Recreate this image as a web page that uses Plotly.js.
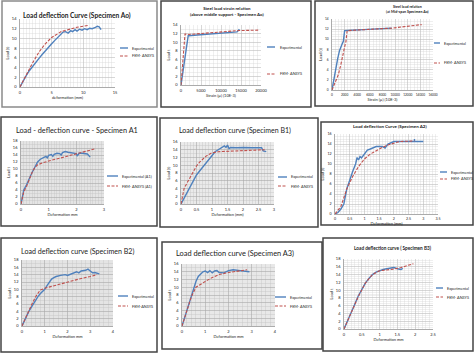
<!DOCTYPE html>
<html><head><meta charset="utf-8">
<script src="https://cdn.plot.ly/plotly-3.0.1.min.js"></script>
<style>html,body{margin:0;padding:0;background:#fff}#chart{width:474px;height:356px}</style>
</head><body><div id="chart"></div>
<script>
// ---------- DATA ----------
// Panel 1: Load deflection Curve (Specimen Ao)
const ao_defl_exp_x = [0,0.2,0.5,1,1.5,2,2.5,3,3.5,4,4.5,5,5.5,6,6.5,6.8,7.2,7.6,8,8.3,8.7,9,9.4,9.8,10.2,10.6,11,11.4,11.8,12.2,12.5,12.8];
const ao_defl_exp_y = [0,0.5,1.3,2.4,3.4,4.3,5.1,5.9,6.7,7.5,8.2,8.9,9.6,10.2,10.8,11.3,11.4,11.1,11.6,11.4,11.8,11.5,11.9,11.7,12.0,11.8,12.1,12.0,12.2,12.5,12.4,11.8];
const ao_defl_fem_x = [0,0.5,1,2,3,4,5,6,6.5,7,8,9,10,10.8];
const ao_defl_fem_y = [0,1.3,2.6,5.0,7.2,8.9,10.2,11.1,11.4,11.6,12.0,12.3,12.5,12.7];
// Panel 2: Steel load strain relation (above middle support - Specimen Ao)
const ao_sup_exp_x = [0,1800,14000,14600];
const ao_sup_exp_y = [0,11.5,12.4,13.0];
const ao_sup_fem_x = [0,1000,2000,14500,19500];
const ao_sup_fem_y = [0,11.9,11.8,12.7,12.8];
// Panel 3: Steel load relation (at Mid-span Specimen Ao)
const ao_mid_exp_x = [0,300,600,900,1200,1450,1650,1800,1950,2000,9450];
const ao_mid_exp_y = [0,2.2,4.2,6.2,7.8,8.8,9.2,9.6,10.6,11.7,12.2];
const ao_mid_fem_x = [0,500,1000,1400,1700,2000,2200,2400,9500,14200];
const ao_mid_fem_y = [0,1.5,3.0,5.0,7.0,8.5,9.5,11.7,12.2,12.9];
// Panel 4: Load - deflection curve - Specimen A1
const a1_exp_x = [0,0.05,0.1,0.2,0.3,0.4,0.5,0.6,0.7,0.8,0.9,0.95,1.0,1.1,1.15,1.2,1.3,1.4,1.45,1.5,1.6,1.7,1.8,1.9,2.0,2.03,2.1,2.2,2.3,2.4,2.5];
const a1_exp_y = [0,2.0,4.0,5.5,7.5,9.0,10.5,12.0,12.8,13.3,13.6,13.2,13.9,14.1,13.6,14.2,14.5,14.4,14.0,14.7,15.0,14.8,14.6,14.5,14.4,13.7,14.5,14.5,14.4,14.3,13.4];
const a1_fem_x = [0,0.1,0.2,0.3,0.4,0.5,0.6,0.8,1.0,1.5,2.0,2.5,2.7];
const a1_fem_y = [0,3.5,5.0,7.0,9.0,10.4,11.2,11.8,12.3,13.3,14.3,15.3,15.8];
// Panel 5: Load deflection curve (Specimen B1)
const b1_exp_x = [0,0.1,0.2,0.3,0.4,0.5,0.6,0.7,0.8,0.9,1.0,1.1,1.2,1.3,1.4,1.45,1.5,1.55,1.6,1.8,2.0,2.3,2.6,2.65,2.75];
const b1_exp_y = [0,1.5,3.0,4.5,6.0,7.5,8.5,9.5,10.5,11.5,12.5,13.5,14.0,14.5,15.0,14.6,15.2,14.3,14.6,14.5,14.6,14.5,14.5,13.7,13.5];
const b1_fem_x = [0,0.1,0.2,0.3,0.4,0.5,0.6,0.7,0.8,0.9,1.0,1.2,1.5,2.0,2.5,2.7];
const b1_fem_y = [0,4.0,5.5,7.0,8.5,9.8,10.8,11.6,12.3,12.8,13.2,13.5,13.6,13.8,14.0,14.0];
// Panel 6: Load deflection Curve (Specimen A2)
const a2_exp_x = [0,0.1,0.2,0.3,0.4,0.5,0.6,0.7,0.75,0.8,0.85,0.9,1.0,1.1,1.2,1.3,1.4,1.6,1.7,1.8,2.0,2.2,2.5,2.7,2.7,2.7,3.0];
const a2_exp_y = [0,0.3,1.0,2.0,5.0,7.0,8.5,10.0,11.3,10.8,11.5,11.2,12.0,12.8,13.0,13.2,13.5,13.5,13.2,14.0,14.5,14.5,14.5,14.5,15.0,14.5,14.5];
const a2_fem_x = [0,0.2,0.4,0.6,0.8,1.0,1.2,1.4,1.6,1.8,2.0,2.2,2.7];
const a2_fem_y = [0,1.5,5.0,7.5,9.5,11.0,12.0,12.7,13.3,13.8,14.2,14.5,14.6];
// Panel 7: Load deflection curve (Specimen B2)
const b2_exp_x = [0,0.1,0.2,0.3,0.4,0.5,0.6,0.7,0.8,0.9,1.0,1.1,1.2,1.3,1.4,1.5,1.7,1.9,2.0,2.2,2.4,2.5,2.6,2.8,2.9,3.0,3.1,3.2,3.3,3.4];
const b2_exp_y = [0,1.5,3.0,4.0,5.0,6.0,7.2,8.0,8.8,9.3,10.0,11.0,12.0,12.8,13.2,13.5,13.8,14.0,13.8,14.3,14.8,14.5,15.0,15.2,15.5,15.0,14.5,14.6,14.5,14.2];
const b2_fem_x = [0,0.2,0.4,0.6,0.8,1.0,1.5,2.0,2.5,3.0,3.3];
const b2_fem_y = [0,3.0,5.5,8.0,9.8,10.3,11.2,12.0,12.8,13.5,14.0];
// Panel 8: Load deflection curve (Specimen A3)
const a3_exp_x = [0,0.1,0.2,0.3,0.4,0.5,0.6,0.7,0.8,0.9,1.0,1.1,1.2,1.3,1.4,1.5,1.6,1.8,2.0,2.2,2.5,2.7,2.9];
const a3_exp_y = [0,2.0,4.0,6.0,8.0,10.0,11.5,12.8,13.3,14.0,14.2,13.8,14.3,13.7,14.2,14.3,13.8,13.7,14.3,14.5,14.3,14.2,14.0];
const a3_fem_x = [0,0.2,0.4,0.6,0.8,1.0,1.3,1.6,2.0,2.5,2.8];
const a3_fem_y = [0,4.0,7.5,10.0,10.8,11.5,12.5,13.3,13.8,14.2,14.5];
// Panel 9: Load deflection curve ( Specimen B3)
const b3_exp_x = [0,0.1,0.2,0.3,0.4,0.5,0.6,0.7,0.8,0.9,1.0,1.1,1.2,1.3,1.4,1.5,1.6,1.65];
const b3_exp_y = [0,2.0,4.0,6.3,8.5,10.3,11.8,13.0,14.0,14.6,15.0,15.3,15.5,15.6,15.8,15.5,15.3,15.6];
const b3_fem_x = [0,0.2,0.4,0.6,0.8,1.0,1.2,1.4,1.6,1.8,1.95];
const b3_fem_y = [0,4.0,8.3,11.8,14.0,15.0,15.2,15.4,15.8,16.3,16.8];

const panel_titles = [
  "<b>Load deflection Curve (Specimen Ao)</b>",
  "<b>Steel load strain relation<br>(above middle support - Specimen Ao)</b>",
  "<b>Steel load relation<br>(at Mid-span Specimen Ao)</b>",
  "Load - deflection curve - Specimen A1",
  "Load deflection curve (Specimen B1)",
  "<b>Load deflection Curve (Specimen A2)</b>",
  "Load deflection curve (Specimen B2)",
  "Load deflection curve (Specimen A3)",
  "<b>Load deflection curve ( Specimen B3)</b>"
];
const x_titles = ["deformation (mm)","Strain (µ) (10E-3)","Strain (µ) (10E-3)","Deformation mm","Deformation (mm)","Deformation (mm)","Deformation mm","Deformation mm","Deformation mm"];
const y_titles = ["Load (t)","Load t","Load (t)","Load t","Load (t)","Load (t)","Load t","Load t","Load t"];
const exp_names = ["Experimental","Experimental","Experimental","Experimental (A1)","Experimental","Experimental","Experimental","Experimental","Experimental"];
const fem_names = ["FEM- ANSYS","FEM- ANSYS","FEM- ANSYS","FEM- ANSYS (A1)","FEM- ANSYS","FEM- ANSYS","FEM-ANSYS","FEM- ANSYS","FEM- ANSYS"];

const series = [
  [ao_defl_exp_x,ao_defl_exp_y,ao_defl_fem_x,ao_defl_fem_y],
  [ao_sup_exp_x,ao_sup_exp_y,ao_sup_fem_x,ao_sup_fem_y],
  [ao_mid_exp_x,ao_mid_exp_y,ao_mid_fem_x,ao_mid_fem_y],
  [a1_exp_x,a1_exp_y,a1_fem_x,a1_fem_y],
  [b1_exp_x,b1_exp_y,b1_fem_x,b1_fem_y],
  [a2_exp_x,a2_exp_y,a2_fem_x,a2_fem_y],
  [b2_exp_x,b2_exp_y,b2_fem_x,b2_fem_y],
  [a3_exp_x,a3_exp_y,a3_fem_x,a3_fem_y],
  [b3_exp_x,b3_exp_y,b3_fem_x,b3_fem_y]
];

// ---------- LAYOUT (pixel geometry) ----------
const W=474, H=356;
const panels = [
  {box:[2,1,157,107], bc:'#8a8a8a', px:[20,115], py:[19,87], xr:[0,15], yr:[0,14], xt:5, xm:0.5, yt:2, ym:1, bg:null, title:[77,15,6.6], lg:[120,128,130,48,56], tf:4},
  {box:[161,1,311,107], bc:'#444', px:[181,261], py:[25,85], xr:[0,20000], yr:[0,14], xt:5000, xm:1000, yt:2, ym:1, bg:null, title:[227,12,4.4], lg:[267,275,278,47,74], tf:4},
  {box:[315,1,473,106], bc:'#444', px:[332,433], py:[19,90], xr:[0,16000], yr:[0,14], xt:2000, xm:500, yt:2, ym:0.5, bg:null, title:[407,9,3.6], lg:[434,440,442,43,63], tf:3.2},
  {box:[1,117,157,226], bc:'#444', px:[21,104], py:[141,204], xr:[0,3], yr:[0,18], xt:1, xm:0.1, yt:2, ym:1, bg:'#e4e4e4', title:[77,131,7.3], lg:[107,118,120,176,186], tf:4},
  {box:[160,118,318,227], bc:'#444', px:[181,274], py:[142,204], xr:[0,3], yr:[0,16], xt:0.5, xm:0.1, yt:2, ym:1, bg:'#eaeaea', title:[235,131,7.0], lg:[278,287,289,177,186], tf:4},
  {box:[321,122,473,225], bc:'#444', px:[335,438], py:[134,214], xr:[0,3.5], yr:[0,16], xt:0.5, xm:0.1, yt:2, ym:0.5, bg:null, title:[390,127,4.5], lg:[440,447,449,172,179], tf:3.6},
  {box:[1,238,157,352], bc:'#444', px:[22,113], py:[260,326], xr:[0,4], yr:[0,18], xt:1, xm:0.2, yt:2, ym:1, bg:'#e4e4e4', title:[77,251,7.1], lg:[118,128,130,296,306], tf:4},
  {box:[162,242,322,349], bc:'#444', px:[182,275], py:[264,326], xr:[0,4], yr:[0,16], xt:1, xm:0.2, yt:2, ym:1, bg:'#e8e8e8', title:[235,253,7.4], lg:[275,286,288,297,306], tf:4},
  {box:[323,238,473,351], bc:'#444', px:[344,433], py:[259,329], xr:[0,2.5], yr:[0,18], xt:0.5, xm:0.1, yt:2, ym:0.5, bg:null, title:[393,248,4.7], lg:[436,443,445,288,297], tf:4}
];

const BLUE='#4F81BD', RED='#C0504D';
const FONT='Lato, "Liberation Sans", sans-serif';
const px2x = v => v/W, px2y = v => 1 - v/H;

const data=[];
const layout = {
  width:W, height:H, margin:{l:0,r:0,t:0,b:0}, showlegend:false,
  paper_bgcolor:'#ffffff', plot_bgcolor:'rgba(0,0,0,0)',
  font:{family:FONT, color:'#222'}, shapes:[], annotations:[]
};

panels.forEach((p,i)=>{
  const n=i+1, sx=(n===1?'':n);
  const [ex,ey,fx,fy]=series[i];
  data.push({type:'scatter',mode:'lines',x:ex,y:ey,name:exp_names[i],xaxis:'x'+sx,yaxis:'y'+sx,line:{color:BLUE,width:1.4},hoverinfo:'skip'});
  data.push({type:'scatter',mode:'lines',x:fx,y:fy,name:fem_names[i],xaxis:'x'+sx,yaxis:'y'+sx,line:{color:RED,width:1.1,dash:'3px,1.5px'},hoverinfo:'skip'});
  const gc = p.bg ? '#a8a8a8' : '#bdbdbd';
  const mc = p.bg ? '#c4c4c4' : '#d6d6d6';
  const common = {tick0:0, showgrid:true, gridcolor:gc, gridwidth:0.6,
    showline:true, linecolor:'#888', linewidth:0.7, zeroline:false, ticks:'', tickangle:0,
    exponentformat:'none', separatethousands:false,
    tickfont:{size:p.tf, color:'#222'}, automargin:false, fixedrange:true};
  layout['xaxis'+sx] = Object.assign({}, common, {domain:[px2x(p.px[0]),px2x(p.px[1])], range:p.xr, anchor:'y'+sx, dtick:p.xt,
    minor:{dtick:p.xm, showgrid:true, gridcolor:mc, gridwidth:0.4}, ticklabelstandoff:1,
    title:{text:x_titles[i], font:{size:4, color:'#222'}, standoff:2}});
  layout['yaxis'+sx] = Object.assign({}, common, {domain:[px2y(p.py[1]),px2y(p.py[0])], range:p.yr, anchor:'x'+sx, dtick:p.yt,
    minor:{dtick:p.ym, showgrid:true, gridcolor:mc, gridwidth:0.4}, ticklabelstandoff:2,
    title:{text:y_titles[i], font:{size:4, color:'#222'}, standoff:2}});
  if(p.xr[1] > 100){ layout['xaxis'+sx].tickformat = 'd'; }
  if(p.bg){
    layout.shapes.push({type:'rect', xref:'x'+sx+' domain', yref:'y'+sx+' domain', x0:0,x1:1,y0:0,y1:1, fillcolor:p.bg, line:{width:0}, layer:'below'});
  }
  // panel frame
  layout.shapes.push({type:'rect', xref:'paper', yref:'paper', x0:px2x(p.box[0]), x1:px2x(p.box[2]), y0:px2y(p.box[3]), y1:px2y(p.box[1]), line:{color:p.bc, width:1.5}, fillcolor:'rgba(0,0,0,0)', layer:'above'});
  // title
  layout.annotations.push({xref:'paper', yref:'paper', x:px2x(p.title[0]), y:px2y(p.title[1]), xanchor:'center', yanchor:'middle', text:panel_titles[i], showarrow:false, font:{size:p.title[2], color:'#222', family:FONT}});
  // legend (manual)
  const [l0,l1,tx,y1,y2]=p.lg;
  layout.shapes.push({type:'line', xref:'paper', yref:'paper', x0:px2x(l0), x1:px2x(l1), y0:px2y(y1), y1:px2y(y1), line:{color:BLUE,width:1.4}});
  layout.shapes.push({type:'line', xref:'paper', yref:'paper', x0:px2x(l0), x1:px2x(l1), y0:px2y(y2), y1:px2y(y2), line:{color:RED,width:1.1,dash:'3px,1.5px'}});
  layout.annotations.push({xref:'paper', yref:'paper', x:px2x(tx), y:px2y(y1), xanchor:'left', yanchor:'middle', text:exp_names[i], showarrow:false, font:{size:3.8, color:'#222'}});
  layout.annotations.push({xref:'paper', yref:'paper', x:px2x(tx), y:px2y(y2), xanchor:'left', yanchor:'middle', text:fem_names[i], showarrow:false, font:{size:3.8, color:'#222'}});
});

Plotly.newPlot('chart', data, layout, {staticPlot:true, displayModeBar:false});
</script>
</body></html>
